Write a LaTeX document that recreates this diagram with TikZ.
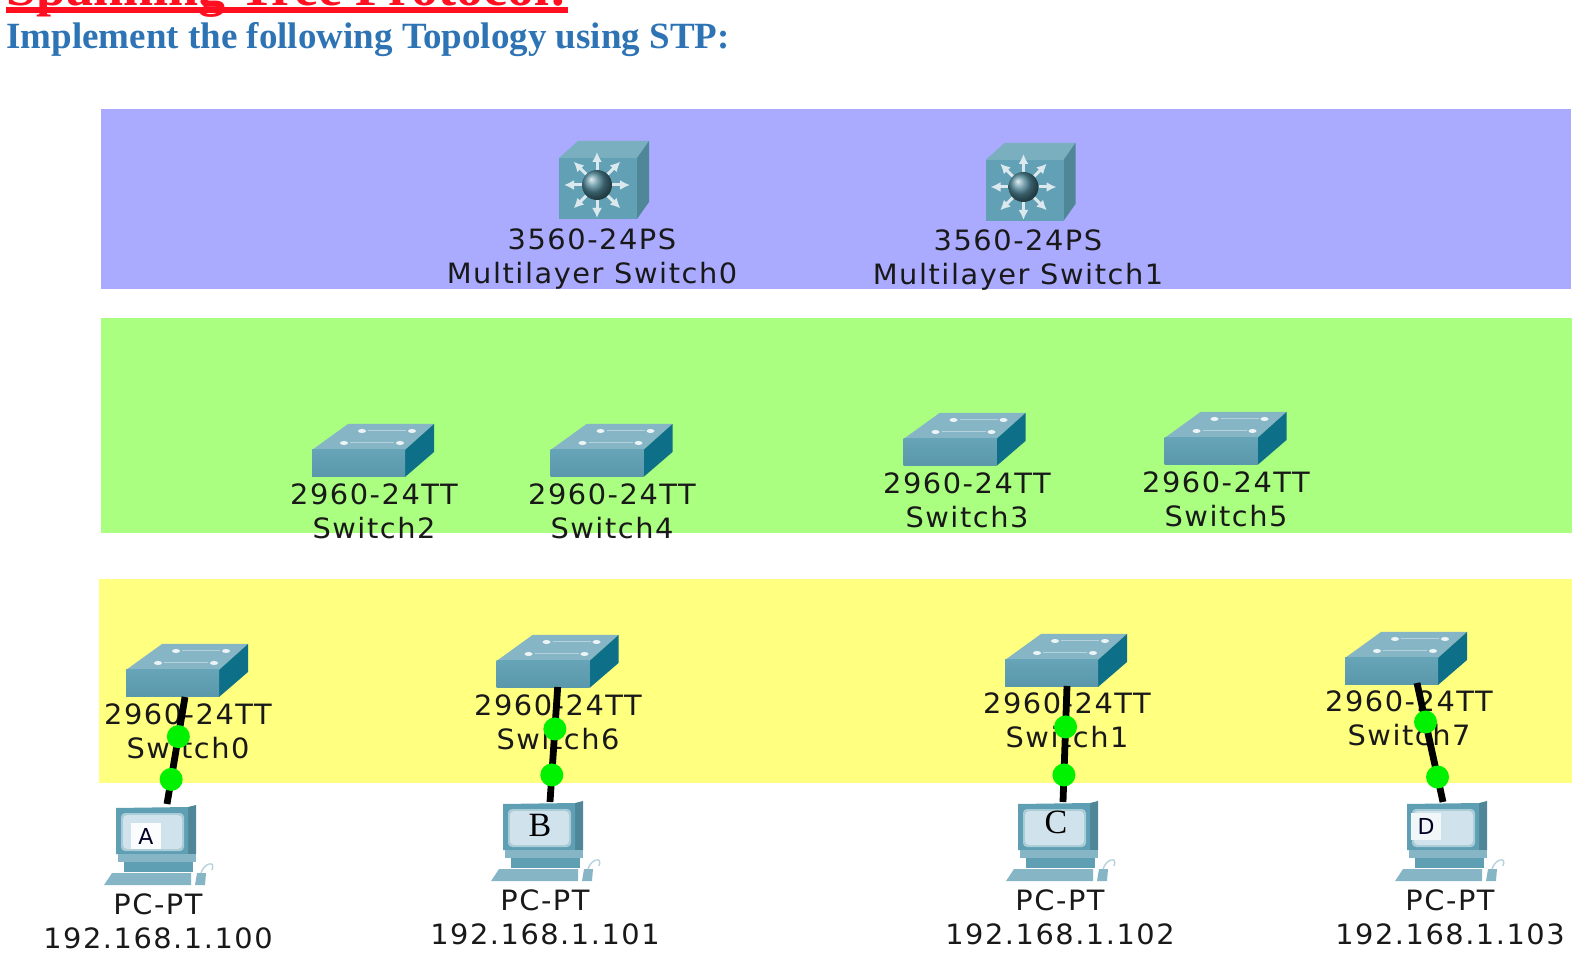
\documentclass[tikz,border=0pt]{standalone}
\usepackage{fontspec}
\setmainfont{DejaVu Sans}
\newfontfamily\headfont{Liberation Serif}
\newfontfamily\devfont[FakeStretch=1.03,LetterSpace=5.5]{DejaVu Sans}
\usetikzlibrary{arrows.meta}

\definecolor{bandblue}{HTML}{AAAAFF}
\definecolor{bandgreen}{HTML}{AAFF80}
\definecolor{bandyellow}{HTML}{FFFF80}
\definecolor{headblue}{HTML}{2E74B5}
\definecolor{headred}{HTML}{FF0F1F}
\definecolor{iconfront}{HTML}{5E9FB3}
\definecolor{icontop}{HTML}{86B6C6}
\definecolor{iconside}{HTML}{0E7088}
\definecolor{iconscreen}{HTML}{D0E2EC}

\tikzset{
  accessswitch/.pic={
    \fill[icontop] (0,0) -- (36,-26) -- (122,-26) -- (93,0) -- cycle;
    \fill[iconside] (93,0) -- (122,-26) -- (122,2) -- (93,27) -- cycle;
    \shade[top color=iconfront!80!icontop, bottom color=iconfront!95!black] (0,0) rectangle (93,27);
    \foreach \lx/\ly in {32/-7, 50/-19, 88/-7, 100/-19}
      \fill[white!85!icontop] (\lx,\ly) ellipse [x radius=4, y radius=2];
    \draw[white!40!icontop, line width=.5pt] (38,-7) -- (82,-7) (56,-19) -- (94,-19);
  },
  coreswitch/.pic={
    \fill[icontop!70!iconfront] (0,0) -- (19,-17) -- (90,-17) -- (78,0) -- cycle;
    \fill[iconfront!85!black] (78,0) -- (90,-17) -- (90,44) -- (78,61) -- cycle;
    \fill[iconfront!90!icontop] (0,0) rectangle (78,61);
    \foreach \ang in {0,45,...,315}
      \draw[-{Latex[length=5pt,width=5pt]}, white!70!icontop, line width=1.5pt]
        (38,27) ++(\ang:15) -- ++(\ang:18);
    \shade[ball color=iconfront!85!black] (38,27) circle [radius=15];
  },
  desktop/.pic={
    \fill[iconfront!85!black] (72,-1) -- (80,-3) -- (80,46) -- (72,46) -- cycle;
    \fill[iconfront] (0,0) -- (72,-1) -- (72,46) -- (0,46) -- cycle;
    \fill[icontop!70!white, rounded corners=2pt] (5,5) rectangle (68,43);
    \fill[iconscreen, rounded corners=2pt] (7,7) rectangle (66,41);
    \fill[icontop] (2,46) rectangle (80,54);
    \fill[iconfront] (8,54) rectangle (77,64);
    \fill[icontop] (-12,77) -- (-4,65) -- (75,65) -- (75,77) -- cycle;
    \fill[icontop] (79,77) -- (81,65) -- (90,65) -- (89,77) -- cycle;
    \draw[icontop!60!white, line width=.7pt] (85,65) .. controls (88,55) and (100,52) .. (96,62);
  }
}

\begin{document}
\begin{tikzpicture}
  [x=.5pt, y=-.5pt,
   cable/.style={line width=3.4pt, black},
   linkdot/.style={circle, fill=green!95!black, inner sep=0pt, minimum size=11.5pt},
   devlabel/.style={align=center, text=black!90, font=\devfont\fontsize{14}{17}\selectfont},
   pcmark/.style={inner sep=0pt, text=black!85!blue, font=\fontsize{11}{13}\selectfont},
   pcmarkbig/.style={inner sep=0pt, font=\headfont\fontsize{17}{19}\selectfont}]
  \useasboundingbox (0,0) rectangle (1592,962);

  % heading
  \clip (0,0) rectangle (1592,962);
  \node (oldhead) [anchor=base west, inner sep=0pt, text=headred, font=\headfont\bfseries\fontsize{27}{30}\selectfont]
    at (6,6) {Spanning Tree Protocol:};
  \fill[headred] (6,7) rectangle (568,13);
  \node (head) [anchor=base west, inner sep=0pt, text=headblue, font=\headfont\bfseries\fontsize{18.5}{21}\selectfont]
    at (6,49) {Implement the following Topology using STP:};

  % bands
  \fill[bandblue] (100.5,109) rectangle (1571,289);
  \fill[bandgreen] (100.5,318) rectangle (1572,533);
  \fill[bandyellow] (98.5,579) rectangle (1572,782.5);

  % devices
  \pic (multi0) at (559,158) {coreswitch};
  \pic (multi1) at (985.5,160) {coreswitch};
  \foreach \name/\x/\y in {sw2/312/450, sw4/550.5/450, sw3/903.5/439, sw5/1164.5/438,
                           sw0/126/670, sw6/496.5/661, sw1/1005/660, sw7/1345/658}
    \pic (\name) at (\x,\y) {accessswitch};
  \foreach \name/\x/\y in {pc0/116/808, pc1/503/804, pc2/1018/804, pc3/1407/804}
    \pic (\name) at (\x,\y) {desktop};

  % labels
  \node (multi0 text) [devlabel] at (592,259.5) {3560-24PS\\Multilayer Switch0};
  \node (multi1 text) [devlabel] at (1018,260) {3560-24PS\\Multilayer Switch1};
  \node (sw2 text) [devlabel] at (374,511.5) {2960-24TT\\Switch2};
  \node (sw4 text) [devlabel] at (612,511.5) {2960-24TT\\Switch4};
  \node (sw3 text) [devlabel] at (967,500) {2960-24TT\\Switch3};
  \node (sw5 text) [devlabel] at (1226,499) {2960-24TT\\Switch5};
  \node (sw0 text) [devlabel] at (188,731.5) {2960-24TT\\Switch0};
  \node (sw6 text) [devlabel] at (558,722.5) {2960-24TT\\Switch6};
  \node (sw1 text) [devlabel] at (1067,720) {2960-24TT\\Switch1};
  \node (sw7 text) [devlabel] at (1409,718) {2960-24TT\\Switch7};
  \node (pc0 text) [devlabel] at (158,921) {PC-PT\\192.168.1.100};
  \node (pc1 text) [devlabel] at (545,917) {PC-PT\\192.168.1.101};
  \node (pc2 text) [devlabel] at (1060,917) {PC-PT\\192.168.1.102};
  \node (pc3 text) [devlabel] at (1450,917) {PC-PT\\192.168.1.103};

  % screen marks
  \node (markA) [pcmark, fill=white!90!iconscreen, minimum width=15pt, minimum height=13pt] at (146,836) {A};
  \node (markB) [pcmarkbig] at (540,825) {B};
  \node (markC) [pcmarkbig] at (1056,822) {C};
  \node (markD) [pcmark, fill=white!70!iconscreen, minimum width=15pt, minimum height=13.5pt] at (1426,826.5) {D};

  % links
  \coordinate (sw0 port) at (185,697);   \coordinate (pc0 port) at (167,804);
  \coordinate (sw6 port) at (557.7,687); \coordinate (pc1 port) at (550,802);
  \coordinate (sw1 port) at (1067,686);  \coordinate (pc2 port) at (1063,802);
  \coordinate (sw7 port) at (1417,683);  \coordinate (pc3 port) at (1443,802);
  \draw[cable] (sw0 port) -- node (dot0a) [linkdot, pos=.37] {} node (dot0b) [linkdot, pos=.77] {} (pc0 port);
  \draw[cable] (sw6 port) -- node (dot1a) [linkdot, pos=.365] {} node (dot1b) [linkdot, pos=.765] {} (pc1 port);
  \draw[cable] (sw1 port) -- node (dot2a) [linkdot, pos=.353] {} node (dot2b) [linkdot, pos=.767] {} (pc2 port);
  \draw[cable] (sw7 port) -- node (dot3a) [linkdot, pos=.328] {} node (dot3b) [linkdot, pos=.79] {} (pc3 port);
\end{tikzpicture}
\end{document}
